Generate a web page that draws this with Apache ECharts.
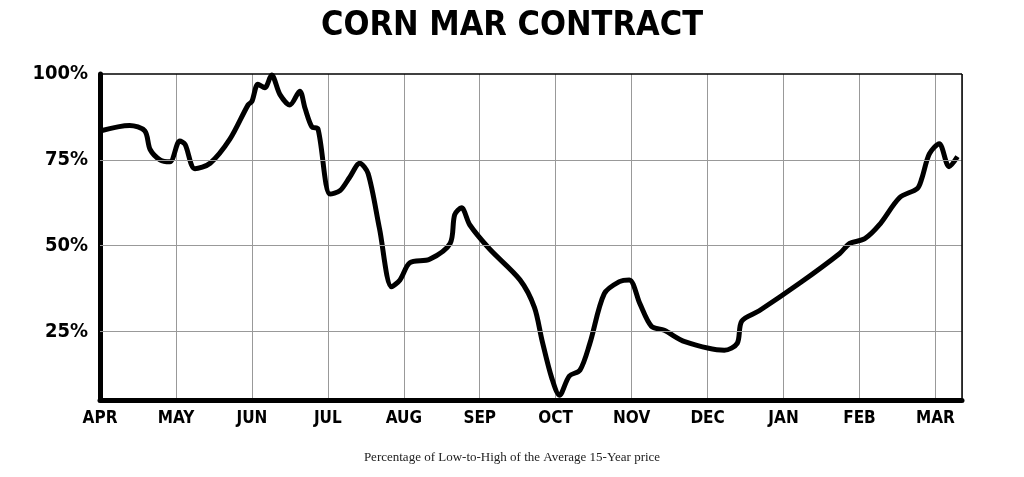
<!DOCTYPE html>
<html><head><meta charset="utf-8">
<script src="https://cdn.jsdelivr.net/npm/echarts@6/dist/echarts.min.js"></script>
<style>html,body{margin:0;padding:0;background:#fff}#c{width:1024px;height:477px}</style>
</head><body><div id="c"></div>
<script>
// month labels at integer positions on the x axis
var months = ['APR','MAY','JUN','JUL','AUG','SEP','OCT','NOV','DEC','JAN','FEB','MAR'];
var yTicks = [25, 50, 75, 100];
// position in months since APR, and % of low-to-high
var monthPos = [0,0.39,0.59,0.66,0.79,0.92,1.05,1.12,1.25,1.45,1.71,1.95,2.0,2.08,2.17,2.26,2.37,2.5,2.63,2.7,2.79,2.87,3.03,3.16,3.29,3.42,3.53,3.68,3.84,3.95,4.08,4.34,4.61,4.67,4.76,4.87,5.13,5.53,5.72,5.82,5.95,6.05,6.18,6.32,6.45,6.64,6.84,6.97,7.11,7.26,7.43,7.70,8.22,8.39,8.45,8.68,9.21,9.74,9.87,10.07,10.26,10.53,10.76,10.82,10.92,11.05,11.18,11.29];
var pct = [83.4,85,83.4,78,75,74.4,80.5,79.5,72.4,74,81,91,92,97,96,99.7,94,91,95,90,84.6,84,65,66,70,74,71,55,38,40,45,46,50.6,59,61,56,49,40,32,22.4,11.3,6.4,12,13.7,21.5,36,39.5,40,33,26.5,25.3,22,19.5,21.5,28,31,39,47.7,50.6,52,56,64,66.6,69.5,76.7,79.7,73,75.9];

var chart = echarts.init(document.getElementById('c'));
chart.setOption({
  animation: false,
  title: [{
    text: 'CORN MAR CONTRACT', left: 'center', top: 4,
    textStyle: {fontFamily: 'Liberation Sans Narrow, DejaVu Sans Condensed', fontWeight: 'bold', fontSize: 34, color: '#000'}
  }, {
    text: 'Percentage of Low-to-High of the Average 15-Year price', left: 'center', top: 446,
    textStyle: {fontFamily: 'Liberation Serif', fontWeight: 'normal', fontSize: 13, color: '#222'}
  }],
  grid: {left: 100, right: 62, top: 74, bottom: 77},
  xAxis: {
    type: 'value', min: 0, max: 11.35, interval: 1,
    axisLine: {lineStyle: {color: '#000', width: 5}},
    axisTick: {show: false},
    splitLine: {show: true, lineStyle: {color: '#999', width: 1}},
    axisLabel: {showMaxLabel: false, color: '#000', fontSize: 17, fontWeight: 'bold', margin: 10,
      fontFamily: 'Liberation Sans Narrow, DejaVu Sans Condensed',
      formatter: function (v) { return months[Math.round(v)] || ''; }}
  },
  yAxis: {
    type: 'value', min: 5, max: 100, interval: 5,
    axisLine: {show: true, lineStyle: {color: '#000', width: 5}},
    axisTick: {show: false},
    splitLine: {show: false},
    axisLabel: {color: '#000', fontSize: 20, fontWeight: 'bold', margin: 12,
      fontFamily: 'DejaVu Sans Condensed',
      formatter: function (v) { return yTicks.indexOf(v) >= 0 ? v + '%' : ''; }}
  },
  series: [{
    type: 'line', smooth: 0.3, symbol: 'none',
    lineStyle: {color: '#000', width: 5},
    data: monthPos.map(function (x, i) { return [x, pct[i]]; }),
    markLine: {
      silent: true, symbol: 'none', label: {show: false},
      lineStyle: {color: '#999', width: 1, type: 'solid'},
      data: yTicks.slice(0, 3).map(function (v) { return {yAxis: v}; })
        .concat([{yAxis: 100, lineStyle: {color: '#000', width: 1.5}}, {xAxis: 11.35, lineStyle: {color: '#000', width: 1.5}}])
    }
  }]
});
</script></body></html>
